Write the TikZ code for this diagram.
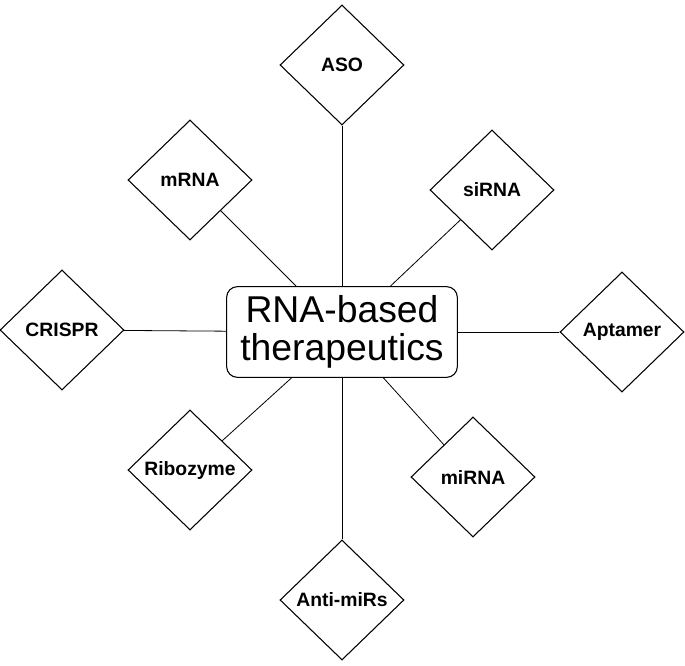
\documentclass[tikz,border=0pt]{standalone}
\usepackage{fontspec}
\setmainfont{Liberation Sans}
\usetikzlibrary{shapes.geometric}
\begin{document}
\begin{tikzpicture}[x=0.75pt,y=-0.75pt,
  dia/.style={draw,thick,diamond,inner sep=0pt,minimum width=93pt,minimum height=90pt,font=\bfseries\fontsize{14.5}{16}\selectfont},
  hub/.style={draw,thick,rounded corners=8pt,align=center,minimum width=173pt,minimum height=68pt,font=\fontsize{28}{28}\selectfont},
  link/.style={semithick}]
\useasboundingbox (0,0) rectangle (685,665);
\node[hub] (c) at (342,332) {RNA-based\\therapeutics};
\node[dia] (aso) at (342,65) {ASO};
\node[dia] (mrna) at (190,180) {mRNA};
\node[dia] (sirna) at (492,190) {siRNA};
\node[dia] (crispr) at (62,330) {CRISPR};
\node[dia] (apt) at (622,332) {Aptamer};
\node[dia] (ribo) at (190,470) {Ribozyme};
\node[dia] (mirna) at (473,477) {miRNA};
\node[dia] (anti) at (342,600) {Anti-miRs};
\foreach \n in {aso,mrna,sirna,crispr,apt,ribo,mirna,anti}
  \draw[link] (c) -- (\n);
\end{tikzpicture}
\end{document}
